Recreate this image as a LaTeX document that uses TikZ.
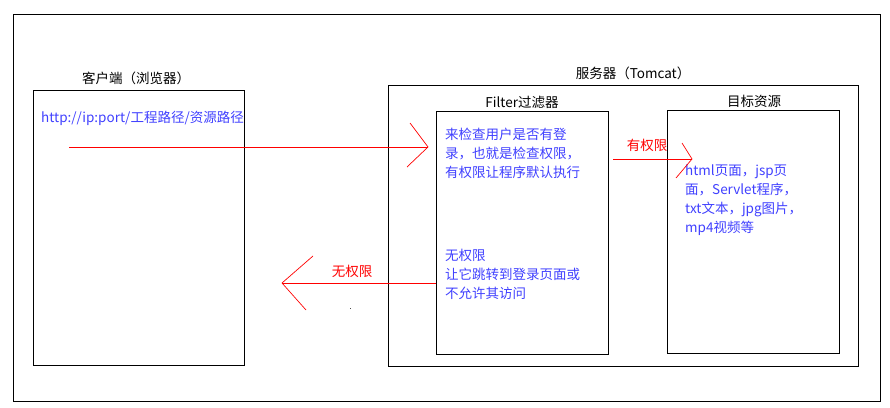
\documentclass[tikz,border=0pt]{standalone}
\usepackage{fontspec}
\setmainfont{Noto Sans CJK SC}
\begin{document}
\begin{tikzpicture}[x=1pt,y=-1pt,
  box/.style={draw=black,line width=0.8pt},
  red/.style={draw=red,line width=0.7pt},
  bt/.style={text=blue!75!white,font=\fontsize{13.5}{19}\selectfont,align=left,anchor=north west,inner sep=0pt},
  lt/.style={font=\fontsize{13.5}{15}\selectfont,inner sep=0pt}]
\useasboundingbox (0,0) rectangle (890,407);
\draw[box] (13,14) rectangle (880,401);
\draw[box] (33,90) rectangle (244,365);
\draw[box] (388,85) rectangle (858,366);
\draw[box] (436,111) rectangle (608,354);
\draw[box] (667,110) rectangle (839,353);
\node[lt] (lc) at (136,78) {客户端（浏览器）};
\node[lt] (ls) at (633,73) {服务器（Tomcat）};
\node[lt] (lf) at (522,102) {Filter过滤器};
\node[lt] (lt2) at (754,101) {目标资源};
\node[bt] (url) at (41,111) {http://ip:port/工程路径/资源路径};
\node[bt] (f1) at (445,128) {来检查用户是否有登\\录，也就是检查权限，\\有权限让程序默认执行};
\node[bt] (f2) at (445,249) {无权限\\让它跳转到登录页面或\\不允许其访问};
\node[bt] (t1) at (685,165) {html页面，jsp页\\面，Servlet程序，\\txt文本，jpg图片，\\mp4视频等};
\node[lt,text=red] (yes) at (647,145) {有权限};
\node[lt,text=red] (no) at (352,271) {无权限};
\coordinate (a1s) at (69,147); \coordinate (a1e) at (428,147);
\draw[red] (a1s) -- (a1e); \draw[red] (410,123) -- (a1e) -- (407,167);
\coordinate (a2s) at (613,159); \coordinate (a2e) at (692,159);
\draw[red] (a2s) -- (a2e); \draw[red] (682,143) -- (a2e) -- (676,178);
\coordinate (a3s) at (436,283); \coordinate (a3e) at (282,283);
\draw[red] (a3s) -- (a3e); \draw[red] (313,256) -- (a3e) -- (306,310);
\fill[black!70] (349.5,308) rectangle (350.5,309);
\end{tikzpicture}
\end{document}
